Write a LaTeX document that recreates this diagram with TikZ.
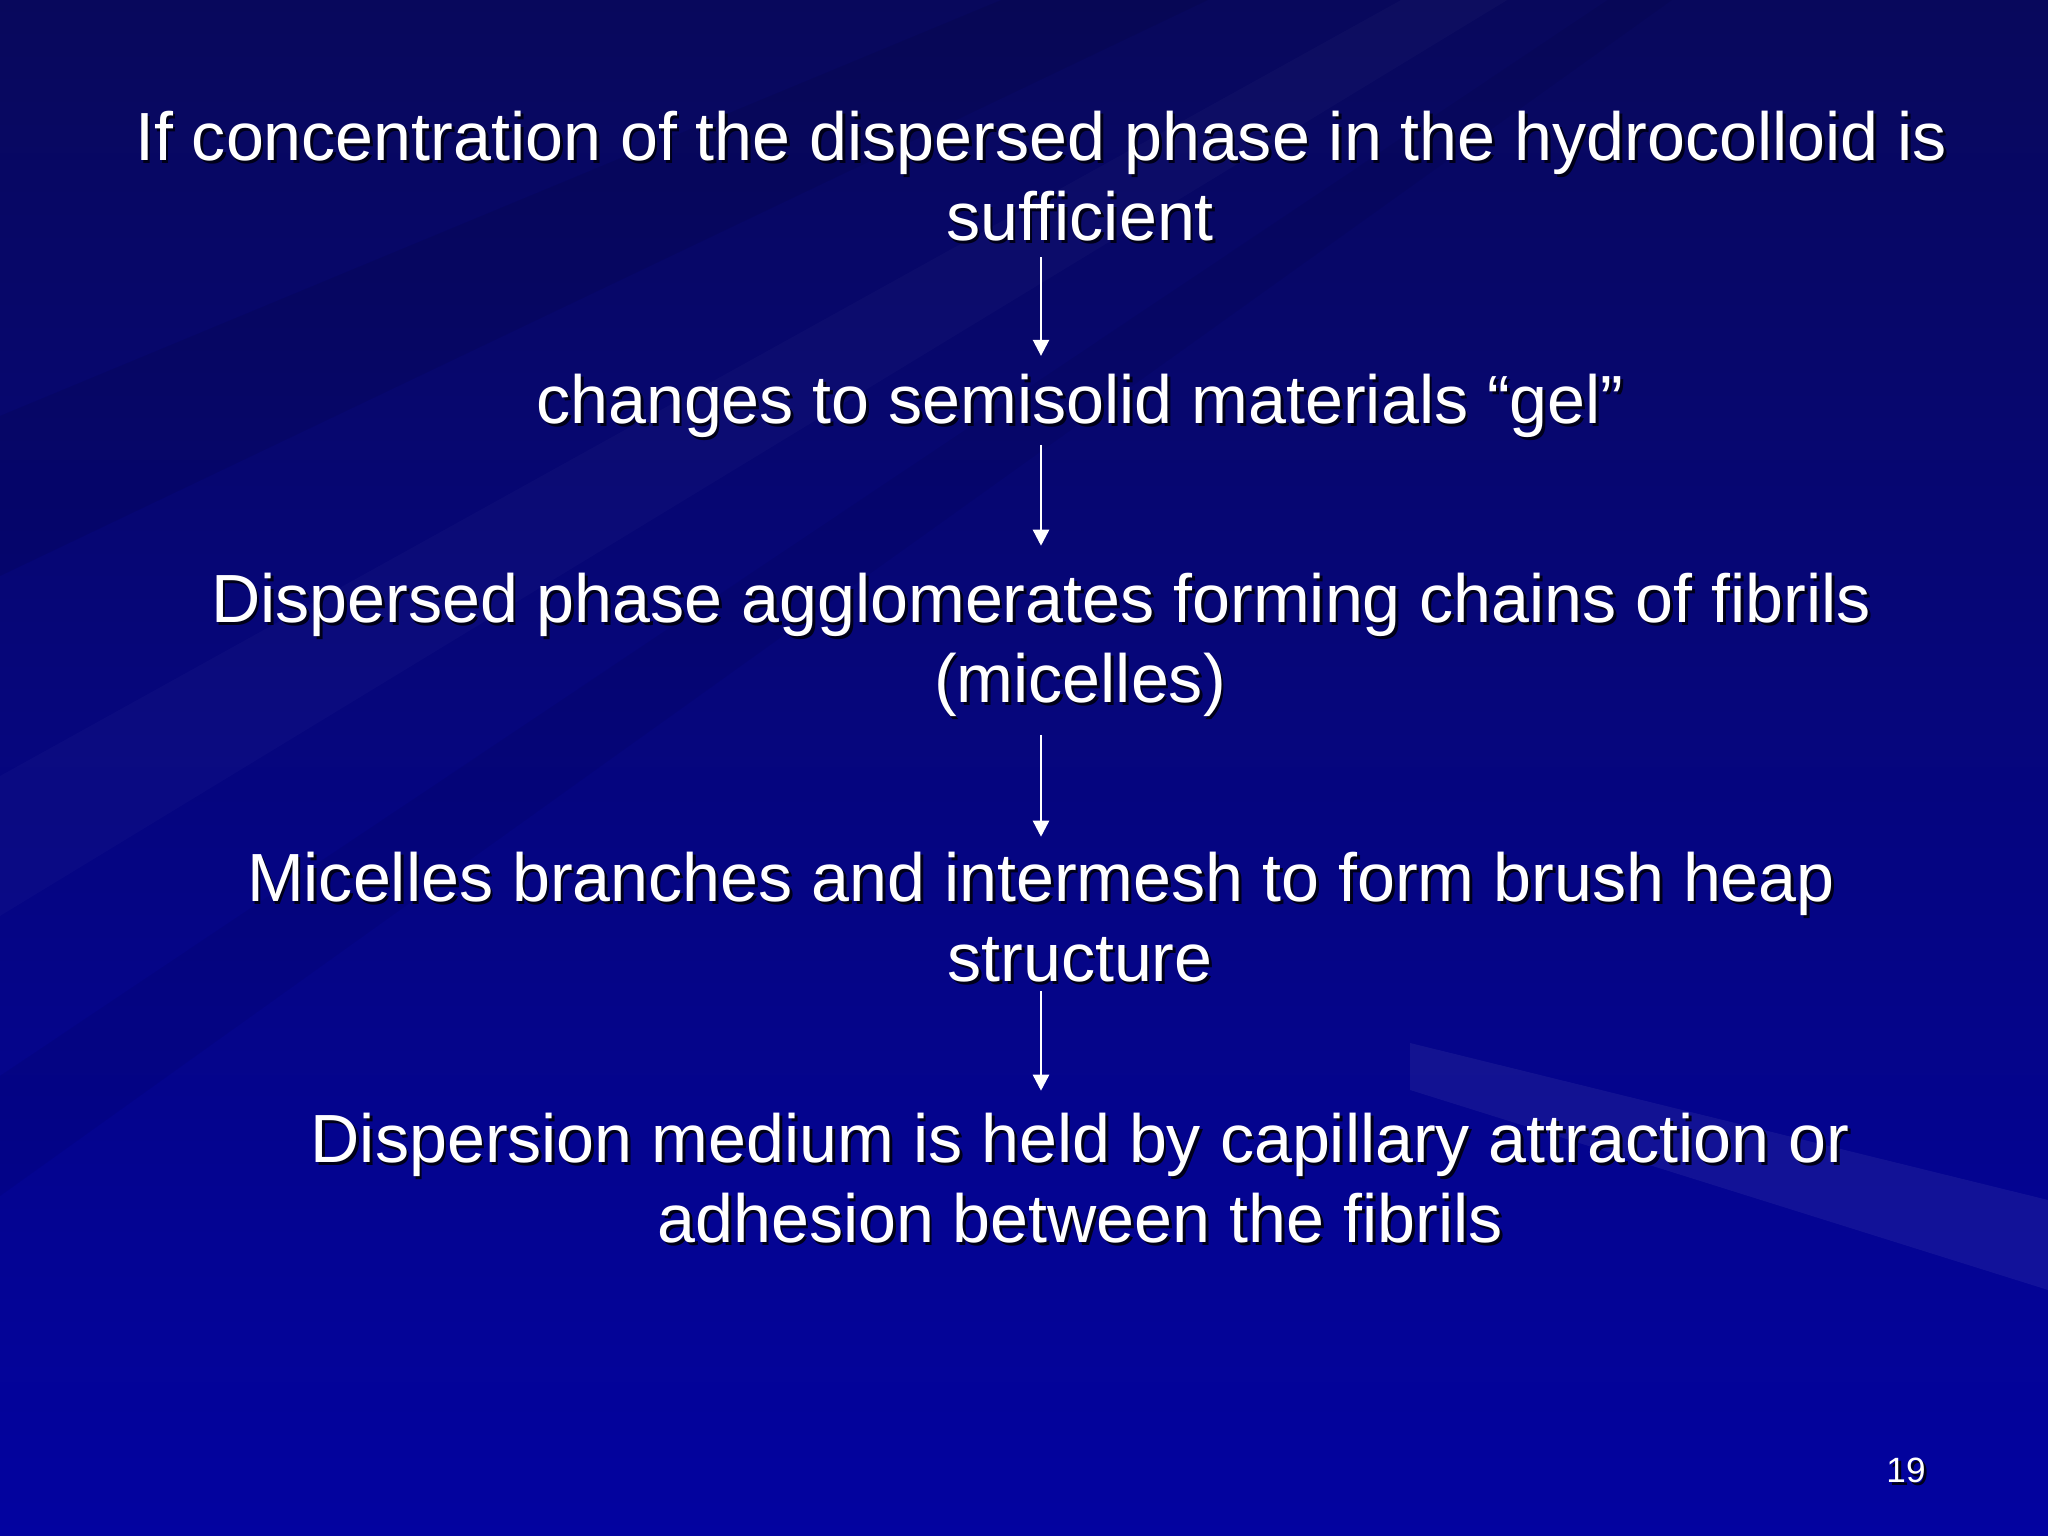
\documentclass[tikz,border=0pt]{standalone}
\usepackage{fontspec}
\setmainfont{Liberation Sans}
\usetikzlibrary{arrows.meta}

\definecolor{slidetop}{RGB}{8,8,92}
\definecolor{slidebot}{RGB}{3,3,160}
\definecolor{shadowc}{RGB}{0,0,25}

% white text with a small dark drop shadow
\newcommand\shad[1]{\rlap{\smash{\hspace{0.8pt}\raisebox{-0.8pt}{\color{shadowc}#1}}}#1}

\begin{document}
\begin{tikzpicture}[
    every node/.style={inner sep=0pt},
    flowtext/.style={text=white, align=center, anchor=base,
        font=\fontsize{19.4}{22.8}\selectfont},
    flow/.style={draw=white, line width=0.7pt,
        -{Triangle[width=1.6mm,length=1.6mm]}}
]
    \useasboundingbox (0,0) rectangle (20.48,15.36);

    % background and rays
    \shade[top color=slidetop, bottom color=slidebot] (0,0) rectangle (20.48,15.36);
    \fill[black, opacity=0.07] (26,22) -- (0,11.2) -- (0,9.6) -- cycle;
    \fill[black, opacity=0.07] (26,22) -- (9.5,15.36) -- (12.5,15.36) -- cycle;
    \fill[black, opacity=0.05] (26,22) -- (0,4.6) -- (0,3.4) -- cycle;
    \fill[white, opacity=0.025] (26,22) -- (0,7.6) -- (0,6.2) -- cycle;
    \fill[white, opacity=0.06] (14.10,4.93) -- (20.48,3.36) -- (20.48,2.46) -- (14.10,4.46) -- cycle;

    % text blocks (base = last line)
    \node[flowtext] (top) at (10.80,12.95)
        {\shad{If concentration of the dispersed phase in the hydrocolloid is}\hspace*{7.8mm}\\
         \shad{sufficient}};
    \node[flowtext] (gel) at (10.80,11.12)
        {\shad{changes to semisolid materials “gel”}};
    \node[flowtext] (chains) at (10.80,8.33)
        {\shad{Dispersed phase agglomerates forming chains of fibrils}\hspace*{7.8mm}\\
         \shad{(micelles)}};
    \node[flowtext] (brush) at (10.80,5.54)
        {\shad{Micelles branches and intermesh to form brush heap}\hspace*{7.8mm}\\
         \shad{structure}};
    \node[flowtext] (medium) at (10.80,2.93)
        {\shad{Dispersion medium is held by capillary attraction or}\\
         \shad{adhesion between the fibrils}};
    \node[text=white, anchor=base, font=\fontsize{10}{12}\selectfont] (pagenum) at (19.06,0.53)
        {\shad{19}};

    % arrows
    \coordinate (ax) at (10.41,0);
    \draw[flow, shorten <=1.5mm, shorten >=1.8mm] (top.south -| ax) -- (gel.north -| ax);
    \draw[flow, shorten <=0.6mm, shorten >=2.7mm] (gel.south -| ax) -- (chains.north -| ax);
    \draw[flow, shorten <=1.7mm, shorten >=1.5mm] (chains.south -| ax) -- (brush.north -| ax);
    \draw[flow, shorten <=0.8mm, shorten >=2.2mm] (brush.south -| ax) -- (medium.north -| ax);

\end{tikzpicture}
\end{document}
